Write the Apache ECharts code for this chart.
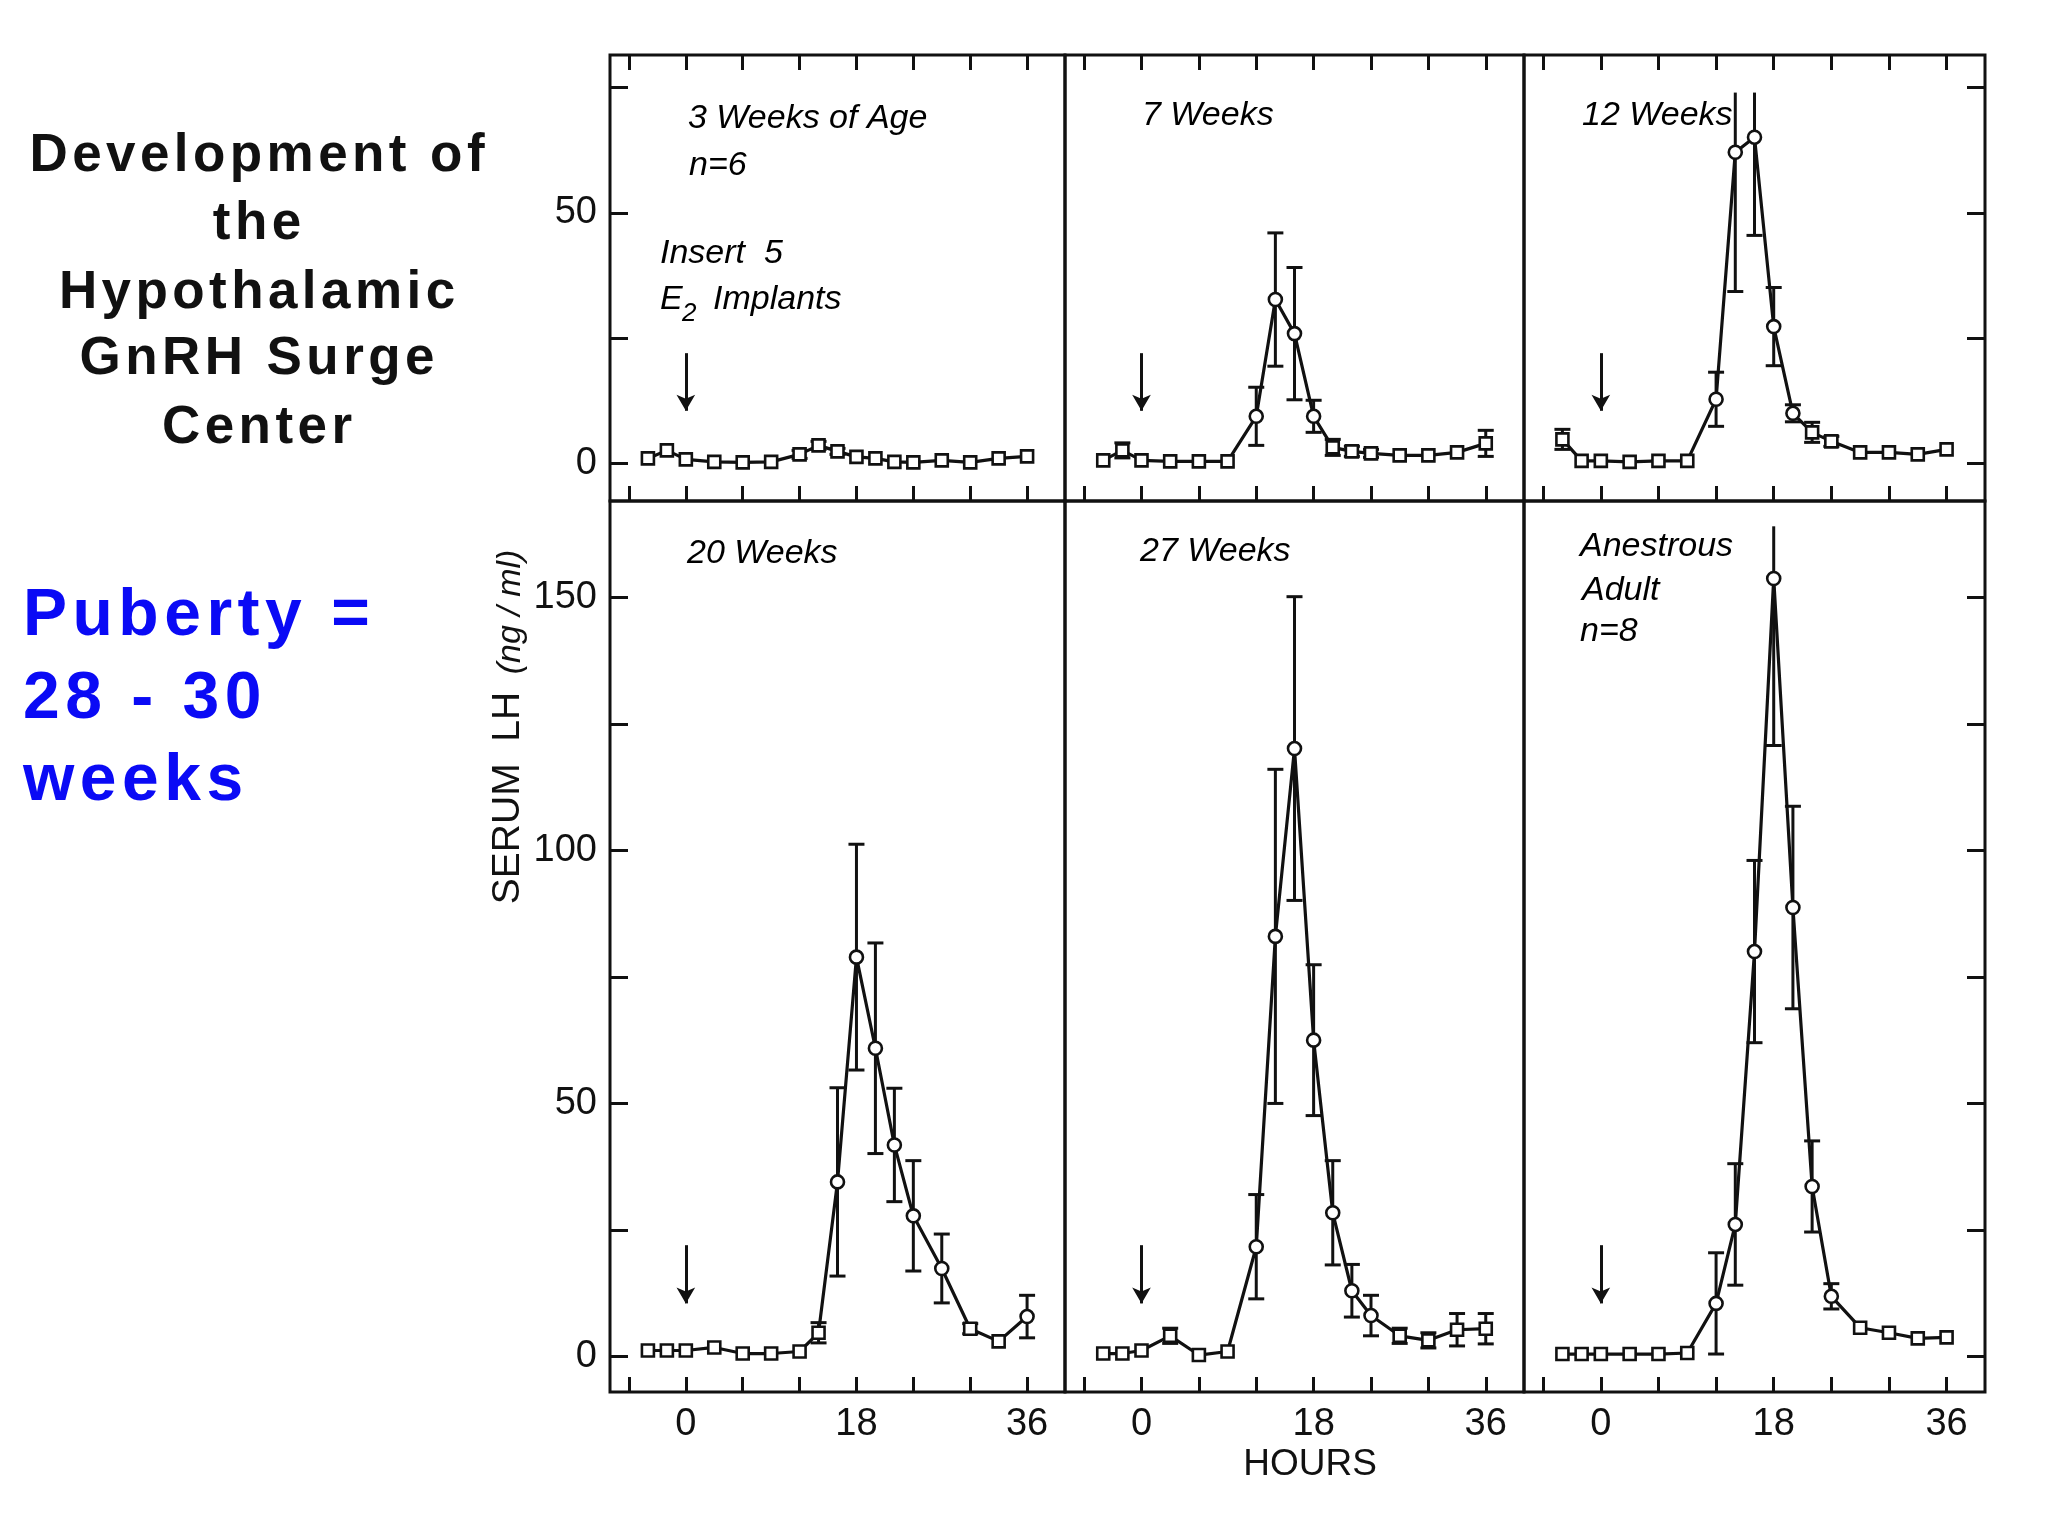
<!DOCTYPE html>
<html><head><meta charset="utf-8">
<script src="https://cdn.jsdelivr.net/npm/echarts@6/dist/echarts.min.js"></script>
<style>html,body{margin:0;padding:0;background:#fff}#c{width:2048px;height:1536px}</style>
</head><body><div id="c"></div>
<script>
// ---- data ----
const hours = [-4, -2, 0, 3, 6, 9, 12, 14, 16, 18, 20, 22, 24, 27, 30, 33, 36];

const lh3wk  = [1.0, 2.6, 0.8, 0.3, 0.2, 0.3, 1.8, 3.6, 2.4, 1.3, 1.0, 0.3, 0.2, 0.6, 0.2, 1.0, 1.4];
const se3wk  = [0, 0, 0, 0, 0, 0, 0.8, 0.8, 0.6, 0, 0, 0, 0, 0, 0, 0, 0];

const lh7wk  = [0.6, 2.6, 0.6, 0.4, 0.4, 0.4, 9.4, 32.7, 25.9, 9.4, 3.2, 2.4, 2.0, 1.6, 1.6, 2.2, 4.0];
const se7wk  = [0, 1.5, 0, 0, 0, 0, 5.8, 13.3, 13.2, 3.2, 1.6, 1.0, 0.8, 0, 0, 0, 2.6];

const lh12wk = [4.8, 0.5, 0.5, 0.3, 0.5, 0.5, 12.8, 62.1, 65.1, 27.3, 10.0, 6.2, 4.4, 2.2, 2.2, 1.8, 2.8];
const se12wk = [2.0, 0, 0, 0, 0, 0, 5.4, 27.8, 19.6, 7.8, 1.7, 2.0, 1.0, 0, 0, 0, 0];

const lh20wk = [1.2, 1.2, 1.2, 1.8, 0.6, 0.6, 1.0, 4.7, 34.5, 78.9, 60.9, 41.8, 27.8, 17.4, 5.5, 3.0, 7.9];
const se20wk = [0, 0, 0, 0, 0, 0, 0, 2.0, 18.6, 22.3, 20.8, 11.2, 10.9, 6.8, 1.0, 0, 4.2];

const lh27wk = [0.6, 0.6, 1.2, 4.1, 0.3, 1.0, 21.7, 83.0, 120.1, 62.5, 28.4, 13.0, 8.1, 4.1, 3.2, 5.3, 5.5];
const se27wk = [0, 0, 0, 1.5, 0, 0, 10.3, 33.0, 30.0, 14.9, 10.3, 5.2, 4.0, 1.5, 1.5, 3.2, 3.0];

const lhAdult = [0.5, 0.5, 0.5, 0.5, 0.5, 0.7, 10.5, 26.1, 80.0, 153.7, 88.7, 33.6, 11.9, 5.7, 4.7, 3.6, 3.8];
const seAdult = [0, 0, 0, 0, 0, 0, 10.0, 12.0, 18.0, 33.0, 20.0, 9.0, 2.5, 0, 0, 0, 0];

const implantHour = 0;
const arrowFrom = 22, arrowTo = 10.5;

const xTickValues  = [-6, 0, 6, 12, 18, 24, 30, 36];
const xLabelValues = [0, 18, 36];
const yTicksTop    = [0, 25, 50, 75];
const yLabelsTop   = [0, 50];
const yTicksBottom = [0, 25, 50, 75, 100, 125, 150];
const yLabelsBottom= [0, 50, 100, 150];

// ---- layout ----
const FONT = '"Liberation Sans", Arial, sans-serif';
const INK = '#111';
const colLeft = [610, 1065, 1524];
const colWidth = [455, 459, 461];
const rowTop = [55, 501];
const rowHeight = [446, 891];
const rowY = [[-7.5, 81.5], [-7, 169]];
const rowCeil = [74, 164];

const panels = [
  {lh: lh3wk,  se: se3wk,  row: 0, col: 0},
  {lh: lh7wk,  se: se7wk,  row: 0, col: 1},
  {lh: lh12wk, se: se12wk, row: 0, col: 2},
  {lh: lh20wk, se: se20wk, row: 1, col: 0},
  {lh: lh27wk, se: se27wk, row: 1, col: 1},
  {lh: lhAdult,se: seAdult,row: 1, col: 2}
];

const grid = [], xAxis = [], yAxis = [], series = [];
const tickStyle = {color: INK, width: 3};
const labelStyle = {fontFamily: FONT, fontSize: 38, color: INK};

panels.forEach((p, i) => {
  grid.push({left: colLeft[p.col], top: rowTop[p.row], width: colWidth[p.col], height: rowHeight[p.row],
    show: true, borderColor: INK, borderWidth: 3, backgroundColor: 'transparent', containLabel: false});
  xAxis.push({type: 'value', gridIndex: i, position: 'bottom', min: -8, max: 40,
    axisLine: {show: false, onZero: false}, splitLine: {show: false},
    axisTick: {show: true, inside: true, length: 15, lineStyle: tickStyle, customValues: xTickValues},
    axisLabel: Object.assign({show: p.row === 1, margin: 14, customValues: xLabelValues}, labelStyle)});
  const yt = p.row === 0 ? yTicksTop : yTicksBottom;
  const yl = p.row === 0 ? yLabelsTop : yLabelsBottom;
  yAxis.push({type: 'value', gridIndex: i, position: p.col === 2 ? 'right' : 'left',
    min: rowY[p.row][0], max: rowY[p.row][1],
    axisLine: {show: false, onZero: false}, splitLine: {show: false},
    axisTick: {show: p.col !== 1, inside: true, length: 18, lineStyle: tickStyle, customValues: yt},
    axisLabel: Object.assign({show: p.col === 0, margin: 13, customValues: yl}, labelStyle)});
});
// top ticks for the upper row
[0, 1, 2].forEach(i => {
  xAxis.push({type: 'value', gridIndex: i, position: 'top', min: -8, max: 40,
    axisLine: {show: false, onZero: false}, splitLine: {show: false},
    axisTick: {show: true, inside: true, length: 15, lineStyle: tickStyle, customValues: xTickValues},
    axisLabel: {show: false}});
});

panels.forEach((p, i) => {
  const ceil = rowCeil[p.row];
  const errData = [];
  hours.forEach((h, k) => {
    if (p.se[k] > 0) {
      const hi = p.lh[k] + p.se[k];
      errData.push([h, p.lh[k] - p.se[k], Math.min(hi, ceil), hi > ceil ? 1 : 0]);
    }
  });
  series.push({
    type: 'custom', xAxisIndex: i, yAxisIndex: i, z: 2, silent: true,
    encode: {x: 0, y: [1, 2]},
    data: errData,
    renderItem: function (params, api) {
      const x = api.value(0);
      const lo = api.coord([x, api.value(1)]);
      const hi = api.coord([x, api.value(2)]);
      const clipped = api.value(3) === 1;
      const w = 8;
      const st = {stroke: INK, lineWidth: 3};
      const ch = [
        {type: 'line', shape: {x1: lo[0], y1: lo[1], x2: hi[0], y2: hi[1]}, style: st},
        {type: 'line', shape: {x1: lo[0] - w, y1: lo[1], x2: lo[0] + w, y2: lo[1]}, style: st}
      ];
      if (!clipped) ch.push({type: 'line', shape: {x1: hi[0] - w, y1: hi[1], x2: hi[0] + w, y2: hi[1]}, style: st});
      return {type: 'group', children: ch};
    }
  });
  series.push({
    type: 'line', xAxisIndex: i, yAxisIndex: i, z: 3,
    data: hours.map((h, k) => [h, p.lh[k]]),
    symbol: v => v[1] >= 7 ? 'circle' : 'rect',
    symbolSize: v => v[1] >= 7 ? 13 : 12,
    showSymbol: true,
    lineStyle: {color: INK, width: 3.2},
    itemStyle: {color: '#fff', borderColor: INK, borderWidth: 2.6},
    markLine: {
      silent: true, animation: false, symbolSize: [14, 16], precision: 1,
      lineStyle: {color: INK, width: 3, type: 'solid'},
      label: {show: false},
      data: [[{coord: [implantHour, arrowFrom], symbol: 'none'}, {coord: [implantHour, arrowTo], symbol: 'arrow'}]]
    }
  });
});

// letter-spacing imitation with hair spaces
function spaced(s) { return s.split('').join('\u200A'); }
function txt(x, y, text, o) {
  return {type: 'text', x: x, y: y, silent: true, rotation: o.rot || 0,
    style: {text: text, x: 0, y: 0, fill: o.fill || INK,
      font: (o.italic ? 'italic ' : '') + (o.bold ? 'bold ' : '') + o.size + 'px ' + FONT,
      textAlign: o.align || 'left', align: o.align || 'left',
      textVerticalAlign: 'middle', verticalAlign: 'middle'}};
}

const titleLines = ['Development of', 'the', 'Hypothalamic', 'GnRH Surge', 'Center'];
const titleY = [156, 224, 293, 359, 428];
const pubLines = ['Puberty =', '28 - 30', 'weeks'];
const pubY = [617, 700, 782];

const graphic = [];
titleLines.forEach((t, k) => graphic.push(txt(257, titleY[k], spaced(t), {size: 53, bold: true, align: 'center'})));
pubLines.forEach((t, k) => graphic.push(txt(23, pubY[k], spaced(t), {size: 66, bold: true, fill: '#0a0af5'})));

const ann = {size: 34, italic: true, fill: '#000'};
graphic.push(txt(688, 119, '3 Weeks of Age', ann));
graphic.push(txt(689, 166, 'n=6', ann));
graphic.push(txt(660, 254, 'Insert  5', ann));
graphic.push(txt(660, 300, 'E', ann));
graphic.push(txt(682, 314, '2', {size: 26, italic: true, fill: '#000'}));
graphic.push(txt(713, 300, 'Implants', ann));
graphic.push(txt(1142, 116, '7 Weeks', ann));
graphic.push(txt(1582, 116, '12 Weeks', ann));
graphic.push(txt(687, 554, '20 Weeks', ann));
graphic.push(txt(1140, 552, '27 Weeks', ann));
graphic.push(txt(1580, 547, 'Anestrous', ann));
graphic.push(txt(1582, 591, 'Adult', ann));
graphic.push(txt(1580, 632, 'n=8', ann));

graphic.push(txt(508, 798, 'SERUM  LH', {size: 39, rot: Math.PI / 2, align: 'center'}));
graphic.push(txt(511, 612, '(ng / ml)', {size: 34, italic: true, rot: Math.PI / 2, align: 'center'}));
graphic.push(txt(1310, 1465, 'HOURS', {size: 37, align: 'center'}));

const chart = echarts.init(document.getElementById('c'), null, {renderer: 'canvas'});
chart.setOption({
  backgroundColor: '#fff',
  animation: false,
  grid: grid, xAxis: xAxis, yAxis: yAxis, series: series, graphic: graphic
});
</script></body></html>
